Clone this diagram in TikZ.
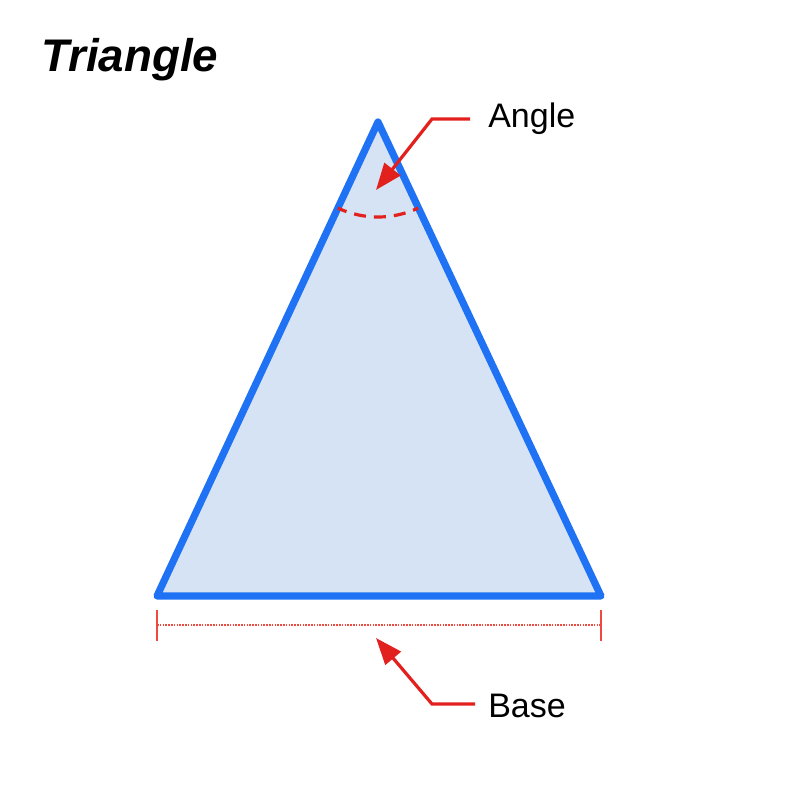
\documentclass[tikz,border=0pt]{standalone}
\usepackage{fontspec}
\setmainfont{Liberation Sans}
\usetikzlibrary{arrows.meta,calc}
\definecolor{triblue}{HTML}{1F72F4}
\definecolor{trifill}{HTML}{D5E3F4}
\definecolor{redarrow}{HTML}{E2201E}
\definecolor{dimred}{HTML}{EE4A40}
\tikzset{
  pointer/.style={draw=redarrow, line width=2.4pt, -{Triangle[length=20pt,width=15pt]}},
  lbl/.style={font=\fontsize{25.5}{28}\selectfont, anchor=west, inner sep=0pt},
  dimline/.style={draw=dimred, line width=1pt}
}
\begin{document}
\begin{tikzpicture}[x=0.75pt,y=-0.75pt]
\useasboundingbox (0,0) rectangle (800,800);
% title
\node[anchor=west, inner sep=0pt, font=\fontsize{34.3}{38}\selectfont\bfseries\itshape] (title) at (41,60) {Triangle};
% triangle
\coordinate (apex) at (378,122);
\coordinate (bl) at (157,596);
\coordinate (br) at (601,596);
\draw[fill=trifill, draw=triblue, line width=5.4pt, line join=round] (apex) -- (bl) -- (br) -- cycle;
% angle arc
\draw[redarrow, line width=2.4pt, dash pattern=on 9pt off 6pt, dash phase=2pt] ($(apex)+(115:95)$) arc[start angle=115, end angle=65, radius=95];
% labels
\node[lbl] (angle) at (488,119) {Angle};
\node[lbl] (base) at (488,706) {Base};
\coordinate (angtip) at (376,190);
\coordinate (basetip) at (376,638);
\draw[pointer] (angle.west) ++(-18,0) -- ++(-38,0) -- (angtip);
\draw[pointer] (base.west) ++(-13,-2) -- ++(-43,0) -- (basetip);
% base dimension
\coordinate (dl) at (157,625);
\coordinate (dr) at (601,625);
\draw[dimline, dash pattern=on 1.2pt off 0.9pt] (dl) -- (dr);
\draw[dimline] (157,610) -- (157,641);
\draw[dimline] (601,610) -- (601,641);
\end{tikzpicture}
\end{document}
